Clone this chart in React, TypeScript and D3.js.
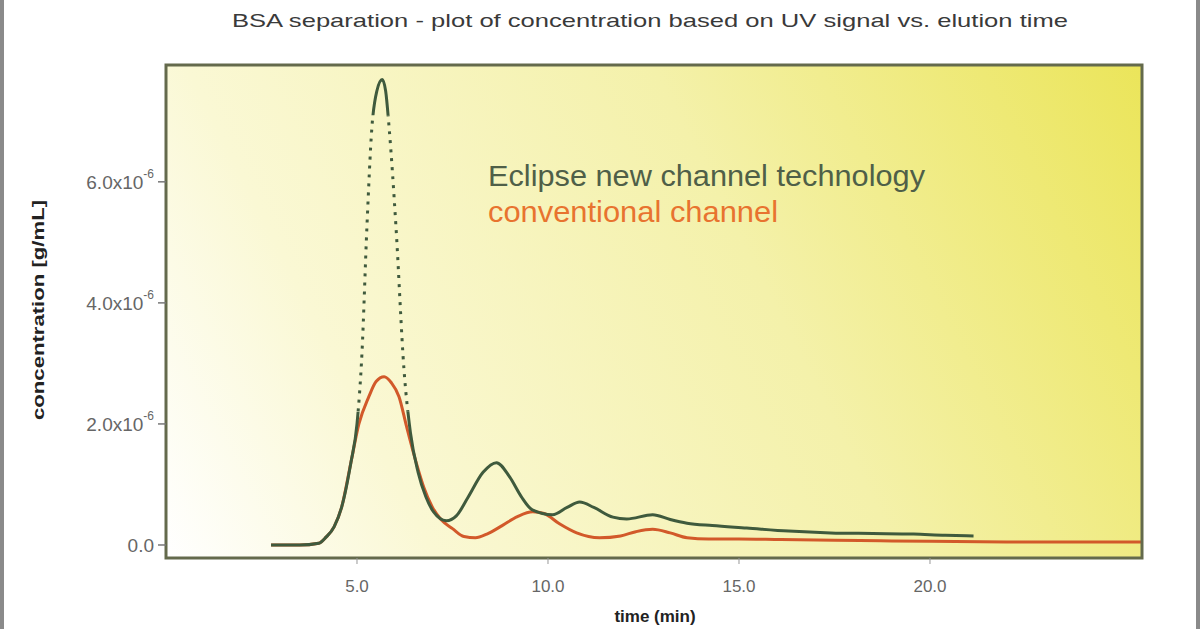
import React, { useEffect, useRef } from 'react'
import * as d3 from 'd3'

// elution time (min) / concentration (x10^-6 g/mL)
const eclipseTime = [2.75, 3.5, 4.0, 4.19, 4.4, 4.6, 4.84, 5.0, 5.13, 5.26, 5.39, 5.52, 5.66, 5.75, 5.84, 6.02, 6.23, 6.4, 6.6, 6.8, 7.0, 7.34, 7.6, 7.9, 8.3, 8.65, 9.0, 9.3, 9.59, 10.12, 10.5, 10.83, 11.2, 11.7, 12.06, 12.74, 13.2, 13.64, 14.3, 15.2, 16.3, 17.4, 18.5, 19.57, 20.4, 21.14]
const eclipseConc = [0, 0, 0.03, 0.13, 0.3, 0.63, 1.36, 2.0, 3.17, 5.26, 6.9, 7.5, 7.69, 7.5, 6.9, 5.26, 2.9, 1.85, 1.2, 0.8, 0.55, 0.4, 0.48, 0.78, 1.2, 1.36, 1.12, 0.8, 0.58, 0.5, 0.62, 0.71, 0.62, 0.46, 0.43, 0.5, 0.42, 0.36, 0.32, 0.28, 0.23, 0.2, 0.19, 0.18, 0.16, 0.15]

const conventionalTime = [2.75, 3.5, 4.0, 4.19, 4.4, 4.6, 4.84, 5.05, 5.31, 5.5, 5.71, 5.9, 6.1, 6.3, 6.55, 6.75, 6.97, 7.2, 7.5, 7.8, 8.1, 8.4, 8.8, 9.2, 9.6, 9.9, 10.3, 10.75, 11.35, 11.9, 12.3, 12.74, 13.2, 13.64, 14.2, 15.0, 16.1, 17.5, 18.7, 20.0, 22.0, 24.0, 25.55]
const conventionalConc = [0, 0, 0.03, 0.13, 0.3, 0.63, 1.36, 2.0, 2.45, 2.7, 2.78, 2.68, 2.45, 1.95, 1.36, 0.95, 0.63, 0.42, 0.27, 0.14, 0.12, 0.18, 0.32, 0.47, 0.55, 0.52, 0.35, 0.2, 0.12, 0.15, 0.22, 0.26, 0.2, 0.12, 0.1, 0.1, 0.09, 0.08, 0.07, 0.06, 0.05, 0.05, 0.05]

const xTicks = [5, 10, 15, 20]
const yTicks = [0, 2, 4, 6]

const title = 'BSA separation - plot of concentration based on UV signal vs. elution time'
const legendNames = ['Eclipse new channel technology', 'conventional channel']
const colors = ['#3f5a3d', '#d2592a']
const legendColors = ['#4f5f48', '#e8732f']

const font = '"Liberation Sans", Arial, sans-serif'

const App = () => {
  const ref = useRef<SVGSVGElement>(null)

  useEffect(() => {
    const svg = d3.select(ref.current)
    svg.selectAll('*').remove()

    const left = 166, right = 1142, top = 65, bottom = 558

    const x = d3.scaleLinear().domain([0, 25.55]).range([left, right])
    const y = d3.scaleLinear().domain([-0.215, 7.93]).range([bottom, top])

    const defs = svg.append('defs')
    const grad = defs.append('linearGradient')
      .attr('id', 'bg')
      .attr('gradientUnits', 'userSpaceOnUse')
      .attr('x1', left).attr('y1', bottom)
      .attr('x2', right).attr('y2', top)
    grad.append('stop').attr('offset', 0).attr('stop-color', '#ffffff')
    grad.append('stop').attr('offset', 0.22).attr('stop-color', '#faf8d4')
    grad.append('stop').attr('offset', 0.6).attr('stop-color', '#f4f1aa')
    grad.append('stop').attr('offset', 1).attr('stop-color', '#ebe55a')

    // clip regions so the tall part of the eclipse peak is drawn dotted
    const split = y(2.2), apex = y(7.1)
    defs.append('clipPath').attr('id', 'lowClip').append('rect')
      .attr('x', left).attr('y', split).attr('width', right - left).attr('height', bottom - split)
    defs.append('clipPath').attr('id', 'midClip').append('rect')
      .attr('x', left).attr('y', apex).attr('width', right - left).attr('height', split - apex)
    defs.append('clipPath').attr('id', 'topClip').append('rect')
      .attr('x', left).attr('y', top).attr('width', right - left).attr('height', apex - top)

    // outer frame
    svg.append('rect').attr('x', 0).attr('y', 0).attr('width', 4).attr('height', 629).attr('fill', '#8a8a8a')
    svg.append('rect').attr('x', 1196).attr('y', 0).attr('width', 4).attr('height', 629).attr('fill', '#8a8a8a')

    // title
    svg.append('text')
      .attr('x', 650).attr('y', 27)
      .attr('text-anchor', 'middle')
      .attr('font-family', font).attr('font-size', 19)
      .attr('fill', '#3a3a3a')
      .attr('textLength', 836).attr('lengthAdjust', 'spacingAndGlyphs')
      .text(title)

    // plot background
    svg.append('rect')
      .attr('x', left).attr('y', top)
      .attr('width', right - left).attr('height', bottom - top)
      .attr('fill', 'url(#bg)')

    const convPts = conventionalTime.map((t, i) => [t, conventionalConc[i]] as [number, number])
    const eclPts = eclipseTime.map((t, i) => [t, eclipseConc[i]] as [number, number])
    const path = d3.line<[number, number]>()
      .x(d => x(d[0]))
      .y(d => y(d[1]))
      .curve(d3.curveMonotoneX)

    svg.append('path')
      .datum(convPts)
      .attr('fill', 'none')
      .attr('stroke', colors[1])
      .attr('stroke-width', 3)
      .attr('d', path)

    const eclStyles = [
      { clip: 'lowClip', dash: null },
      { clip: 'midClip', dash: '3,6' },
      { clip: 'topClip', dash: null },
    ]
    eclStyles.forEach(s => {
      svg.append('path')
        .datum(eclPts)
        .attr('fill', 'none')
        .attr('stroke', colors[0])
        .attr('stroke-width', 3)
        .attr('stroke-dasharray', s.dash)
        .attr('clip-path', `url(#${s.clip})`)
        .attr('d', path)
    })

    // plot frame
    svg.append('rect')
      .attr('x', left).attr('y', top)
      .attr('width', right - left).attr('height', bottom - top)
      .attr('fill', 'none')
      .attr('stroke', '#646a4c')
      .attr('stroke-width', 3)

    // y axis ticks
    yTicks.forEach(v => {
      svg.append('line')
        .attr('x1', left - 8).attr('x2', left)
        .attr('y1', y(v)).attr('y2', y(v))
        .attr('stroke', '#777').attr('stroke-width', 1.5)
      const t = svg.append('text')
        .attr('x', 154).attr('y', y(v) + 7)
        .attr('text-anchor', 'end')
        .attr('font-family', font).attr('font-size', 19)
        .attr('fill', '#666')
      if (v === 0) {
        t.text('0.0')
      } else {
        t.append('tspan').text(`${v.toFixed(1)}x10`)
        t.append('tspan').attr('dy', -11).attr('font-size', 12).text('-6')
      }
    })

    // x axis ticks
    xTicks.forEach(v => {
      svg.append('line')
        .attr('x1', x(v)).attr('x2', x(v))
        .attr('y1', bottom).attr('y2', bottom + 6)
        .attr('stroke', '#999').attr('stroke-width', 1)
      svg.append('text')
        .attr('x', x(v)).attr('y', 592)
        .attr('text-anchor', 'middle')
        .attr('font-family', font).attr('font-size', 17)
        .attr('fill', '#666')
        .text(v.toFixed(1))
    })

    // axis titles
    svg.append('text')
      .attr('x', 655).attr('y', 622)
      .attr('text-anchor', 'middle')
      .attr('font-family', font).attr('font-size', 17).attr('font-weight', 'bold')
      .attr('fill', '#222')
      .text('time (min)')

    svg.append('text')
      .attr('transform', 'translate(44,310) rotate(-90)')
      .attr('text-anchor', 'middle')
      .attr('font-family', font).attr('font-size', 17).attr('font-weight', 'bold')
      .attr('fill', '#222')
      .attr('textLength', 220).attr('lengthAdjust', 'spacingAndGlyphs')
      .text('concentration [g/mL]')

    // legend
    const legendY = [186, 222]
    const legendW = [437, 290]
    legendNames.forEach((name, i) => {
      svg.append('text')
        .attr('x', 488).attr('y', legendY[i])
        .attr('font-family', font).attr('font-size', 29)
        .attr('fill', legendColors[i])
        .attr('textLength', legendW[i]).attr('lengthAdjust', 'spacingAndGlyphs')
        .text(name)
    })
  }, [])

  return (
    <svg
      ref={ref}
      width={1200}
      height={629}
      style={{ position: 'absolute', left: 0, top: 0, background: '#fff' }}
    />
  )
}

export default App
